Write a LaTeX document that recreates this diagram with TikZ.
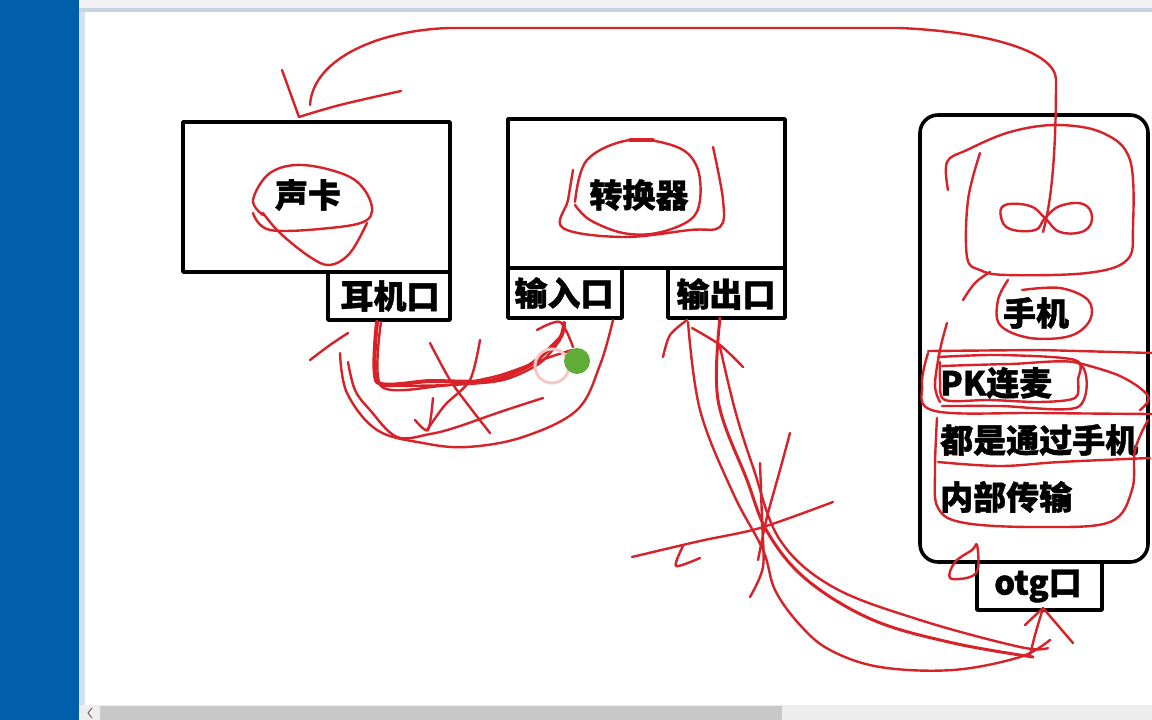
\documentclass[tikz,border=0pt]{standalone}
\usepackage{fontspec}
\newfontfamily\cjk{Noto Sans CJK SC}[BoldFeatures={FakeBold=1.2}]
\usetikzlibrary{positioning}
\definecolor{pen}{RGB}{214,34,40}
\definecolor{panel}{RGB}{0,94,170}
\definecolor{frame}{RGB}{212,224,238}
\definecolor{barline}{RGB}{200,212,225}
\definecolor{thumb}{RGB}{200,200,200}
\definecolor{dot}{RGB}{96,172,54}

\begin{document}
\begin{tikzpicture}[x=1pt, y=-1pt, line join=round]
        \tikzset{box/.style={draw, line width=3.6pt, inner sep=0pt},
                 txt/.style={font=\cjk\bfseries\fontsize{33}{33}\selectfont, inner sep=0pt},
                 ink/.style={pen, line width=2.4pt, line cap=round}}
        \useasboundingbox (0,0) rectangle (1152,720);

        % window around the canvas
        \fill[white] (0,0) rectangle (1152,720);
        \fill[panel] (0,0) rectangle (79,720);
        \fill[frame] (79,0) rectangle (85,705);
        \fill[black!5] (79,0) rectangle (1152,8);
        \fill[barline] (79,8) rectangle (1152,12);
        \fill[black!7] (79,705) rectangle (1152,720);
        \fill[thumb] (100,706) rectangle (782,720);
        \draw[black!60, line width=1pt] (92,708) -- (88,713) -- (92,718);

        % boxes
        \node[box, minimum width=267pt, minimum height=150pt] (card) at (316.5,197) {};
        \node[box, minimum width=122pt, minimum height=48pt] (phones) at (389,296) {};
        \node[box, minimum width=277pt, minimum height=149pt] (conv) at (646.5,193.5) {};
        \node[box, minimum width=114pt, minimum height=50pt] (inport) at (565,293) {};
        \node[box, minimum width=117pt, minimum height=50pt] (outport) at (726.5,293) {};
        \node[box, rounded corners=18pt, minimum width=228pt, minimum height=447pt] (mobile) at (1034,338.5) {};
        \node[box, fill=white, minimum width=125pt, minimum height=48pt] (otg) at (1039.5,586) {};

        % labels
        \node[txt] (cardlbl) at (308,195) {声卡};
        \node[txt] (phoneslbl) at (390,296) {耳机口};
        \node[txt] (convlbl) at (639,195) {转换器};
        \node[txt] (inlbl) at (564,293) {输入口};
        \node[txt] (outlbl) at (726,294) {输出口};
        \node[txt] (mobilelbl) at (1036,313) {手机};
        \node[txt, anchor=west] (pk) at (940,383) {PK连麦};
        \node[txt, anchor=west] (via) at (940,440) {都是通过手机};
        \node[txt, anchor=west] (inner) at (940,497) {内部传输};
        \node[txt] (otglbl) at (1038,586) {otg口};

        % pen strokes: circles on the boxes
        \draw[ink] plot[smooth, tension=0.6] coordinates {(263,215) (253,200) (270,173) (303,165) (350,177) (370,200) (367,220) (330,228) (270,230) (253,213)};
        \draw[ink] plot[smooth, tension=0.6] coordinates {(263,213) (280,233) (310,257) (330,265) (350,253) (367,223)};
        \draw[ink] plot[smooth, tension=0.6] coordinates {(575,202) (587,160) (630,140) (677,147) (697,167) (700,200) (690,220) (657,233) (623,233) (590,220) (575,205)};
        \draw[ink] plot[smooth, tension=0.6] coordinates {(573,170) (568,200) (563,228) (623,237) (690,230) (720,227) (723,200) (713,147)};
        \draw[ink, line width=3.5pt] (630,140) -- (653,140);

        % long return from the phone to the sound card
        \draw[ink] (1043,232) .. controls (1052,200) and (1056,150) .. (1056,80)
                   .. controls (1056,52) and (990,32) .. (900,28) -- (450,28)
                   .. controls (380,30) and (313,58) .. (310,105);
        \draw[ink] (282,70) -- (299,117);
        \draw[ink] plot[smooth, tension=0.6] coordinates {(299,117) (340,105) (401,91)};

        % phone
        \draw[ink] plot[smooth, tension=0.6] coordinates {(980,153) (968,200) (967,257) (980,270) (1007,275) (1087,273) (1127,260) (1133,227) (1130,160) (1103,133) (1057,125) (1010,132) (967,150) (947,162) (948,190)};
        \draw[ink] plot[smooth cycle, tension=0.7] coordinates {(1045,218) (1030,206) (1005,205) (1001,217) (1010,229) (1035,230) (1045,218) (1060,206) (1083,204) (1092,217) (1084,231) (1060,232)};
        \draw[ink] plot[smooth, tension=0.6] coordinates {(1008,280) (998,300) (1000,325) (1030,338) (1070,336) (1090,320) (1088,300) (1060,288) (1022,290)};
        \draw[ink] plot[smooth, tension=0.6] coordinates {(963,300) (975,283) (990,272)};
        \draw[ink] plot[smooth, tension=0.6] coordinates {(947,323) (940,350) (935,385) (940,402)};
        \draw[ink] plot[smooth, tension=0.5] coordinates {(938,357) (1000,355) (1075,360) (1078,380) (1075,398) (1040,402) (990,400) (945,400) (940,380) (940,362)};
        \draw[ink] plot[smooth, tension=0.5] coordinates {(942,366) (1010,364) (1080,364) (1078,407) (1000,406) (942,406)};
        \draw[ink] (928,351) -- (1040,350) -- (1152,353);
        \draw[ink] plot[smooth, tension=0.6] coordinates {(928,353) (922,385) (935,411) (1040,413) (1152,414)};
        \draw[ink] plot[smooth, tension=0.6] coordinates {(1075,362) (1120,376) (1148,396) (1140,410)};
        \draw[ink] plot[smooth, tension=0.6] coordinates {(937,418) (935,470) (938,508) (965,523) (1040,527) (1110,522) (1132,490) (1135,450) (1148,420)};
        \draw[ink] plot[smooth, tension=0.6] coordinates {(938,462) (1000,466) (1060,462) (1150,458)};
        \draw[ink] plot[smooth cycle, tension=0.6] coordinates {(977,545) (978,568) (970,577) (950,578) (955,562) (972,550)};

        % headphone port to input port, crossed out
        \draw[ink, line width=4pt] plot[smooth, tension=0.4] coordinates {(377,322) (377,382) (430,381) (490,381) (530,365) (560,338) (564,323)};
        \draw[ink] plot[smooth, tension=0.5] coordinates {(381,322) (381,386) (440,386) (497,376) (550,357) (572,350)};
        \draw[ink] plot[smooth, tension=0.5] coordinates {(384,386) (450,385) (503,380) (540,363) (560,340)};
        \draw[ink] plot[smooth, tension=0.5] coordinates {(537,330) (560,322) (573,347)};
        \draw[ink] plot[smooth, tension=0.6] coordinates {(613,320) (600,365) (577,410) (523,437) (467,447) (423,443) (377,430) (347,393) (340,353)};
        \draw[ink] plot[smooth, tension=0.5] coordinates {(310,360) (330,345) (348,333)};
        \draw[ink] plot[smooth, tension=0.6] coordinates {(348,362) (355,390) (370,410) (397,437) (430,434) (457,427) (500,412) (543,398)};
        \draw[ink] plot[smooth, tension=0.5] coordinates {(430,343) (450,380) (472,410) (490,433)};
        \draw[ink] plot[smooth, tension=0.5] coordinates {(480,340) (470,380) (445,405) (427,430)};
        \draw[ink] plot[smooth, tension=0.5] coordinates {(433,398) (428,430) (415,420)};

        % output port to otg port, crossed out
        \draw[ink] plot[smooth, tension=0.6] coordinates {(688,322) (700,410) (733,493) (763,550) (775,590) (800,625) (830,650) (880,667) (953,670) (1020,657) (1050,640)};
        \draw[ink, line width=3pt] plot[smooth, tension=0.6] coordinates {(720,318) (718,400) (747,480) (768,533) (807,580) (873,620) (953,643) (1033,657)};
        \draw[ink] plot[smooth, tension=0.6] coordinates {(720,347) (735,410) (753,467) (780,540) (833,587) (920,620) (1020,647) (1048,648)};
        \draw[ink] plot[smooth, tension=0.5] coordinates {(663,357) (670,335) (687,320)};
        \draw[ink] plot[smooth, tension=0.5] coordinates {(692,328) (720,345) (743,367)};
        \draw[ink] plot[smooth, tension=0.5] coordinates {(760,463) (762,520) (763,567) (750,597)};
        \draw[ink] plot[smooth, tension=0.5] coordinates {(790,433) (780,470) (767,517) (758,560)};
        \draw[ink] plot[smooth, tension=0.5] coordinates {(833,502) (760,528) (700,541) (632,557)};
        \draw[ink] plot[smooth, tension=0.5] coordinates {(683,546) (676,566) (700,558)};
        \draw[ink] (1025,625) -- (1043,608) -- (1073,643);
        \draw[ink] plot[smooth, tension=0.5] coordinates {(1043,608) (1035,635) (1030,655)};

        % pointer
        \draw[pen!25, line width=3pt] (552,366) circle (17pt);
        \fill[dot] (577,361) circle (13pt);
\end{tikzpicture}
\end{document}
